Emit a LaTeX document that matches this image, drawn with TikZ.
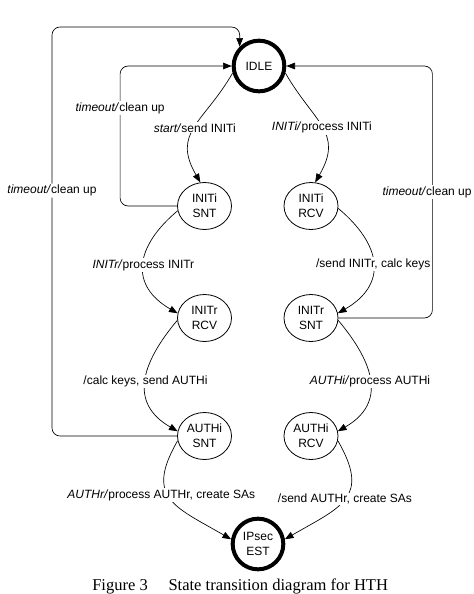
\documentclass[tikz,border=0pt]{standalone}
\usepackage{fontspec}
\setmainfont{Liberation Serif}
\setsansfont{Liberation Sans}
\usetikzlibrary{arrows.meta,shapes.geometric}

\begin{document}
\begin{tikzpicture}[x=0.75pt,y=-0.75pt,>={Triangle[length=6.5pt,width=5pt]},
  state/.style={draw,ellipse,line width=0.6pt,minimum width=40.5pt,minimum height=35.25pt,
    inner sep=0pt,align=center,font=\sffamily\fontsize{9}{11}\selectfont},
  endstate/.style={draw,circle,line width=3pt,minimum size=38pt,inner sep=0pt,
    align=center,font=\sffamily\fontsize{9}{11}\selectfont},
  labelbox/.style={fill=white,inner sep=1pt,font=\sffamily\fontsize{9}{11}\selectfont},
  trans/.style={->,line width=0.5pt}]
  \useasboundingbox (0,0) rectangle (474,594);
  % states
  \node[endstate] (idle) at (259,66) {IDLE};
  \node[state] (initisnt) at (204.5,206) {INITi\\SNT};
  \node[state] (initircv) at (311,206) {INITi\\RCV};
  \node[state] (initrrcv) at (204.5,318) {INITr\\RCV};
  \node[state] (initrsnt) at (311,318) {INITr\\SNT};
  \node[state] (authisnt) at (204.5,436) {AUTHi\\SNT};
  \node[state] (authircv) at (311,436) {AUTHi\\RCV};
  \node[endstate] (ipsecest) at (258,544) {IPsec\\EST};
  % normal exchange
  \draw[trans] (idle.195) to[out=-120,in=120,looseness=1.3]
    node[labelbox] (lstart) {\textit{start/}send INITi} (initisnt.100);
  \draw[trans] (idle.-15) to[out=-60,in=60,looseness=1.3]
    node[labelbox] (linitircv) {\textit{INITi/}process INITi} (initircv.80);
  \draw[trans] (initisnt.190) to[out=-140,in=150,looseness=1.4]
    node[labelbox] (linitrrcv) {\textit{INITr/}process INITr} (initrrcv.170);
  \draw[trans] (initircv.-5) to[out=-40,in=30,looseness=1.4]
    node[labelbox] (linitrsnt) {/send INITr, calc keys} (initrsnt.10);
  \draw[trans] (initrrcv.185) to[out=-130,in=150,looseness=1.3]
    node[labelbox] (lauthisnt) {/calc keys, send AUTHi} (authisnt.170);
  \draw[trans] (initrsnt.-5) to[out=-50,in=30,looseness=1.3]
    node[labelbox] (lauthircv) {\textit{AUTHi/}process AUTHi} (authircv.10);
  \draw[trans] (authisnt.190) to[out=-120,in=150,looseness=1.5]
    node[labelbox,pos=0.45,xshift=-5pt] (lestini) {\textit{AUTHr/}process AUTHr, create SAs} (ipsecest.170);
  \draw[trans] (authircv.-10) to[out=-60,in=30,looseness=1.5]
    node[labelbox] (lestresp) {/send AUTHr, create SAs} (ipsecest.10);
  % timeouts back to idle
  \coordinate (topleft) at (52,27);
  \draw[trans,rounded corners=6pt] (initisnt.west) -- ++(-57,0)
    |- node[labelbox,pos=0.35] (ltimeouta) {\textit{timeout/}clean up} (idle.west);
  \draw[trans,rounded corners=6pt] (authisnt.west)
    -| node[labelbox,pos=0.8] (ltimeoutb) {\textit{timeout/}clean up} (topleft) -| (idle.135);
  \draw[trans,rounded corners=6pt] (initrsnt.east) -- ++(94,0)
    |- node[labelbox,pos=0.25,xshift=-4pt] (ltimeoutc) {\textit{timeout/}clean up} (idle.east);
  % caption
  \node[anchor=base west,inner sep=0pt,font=\fontsize{12.4}{14}\selectfont] (caption) at (92,590)
    {Figure 3\hspace{15.5pt}State transition diagram for HTH};
\end{tikzpicture}
\end{document}
